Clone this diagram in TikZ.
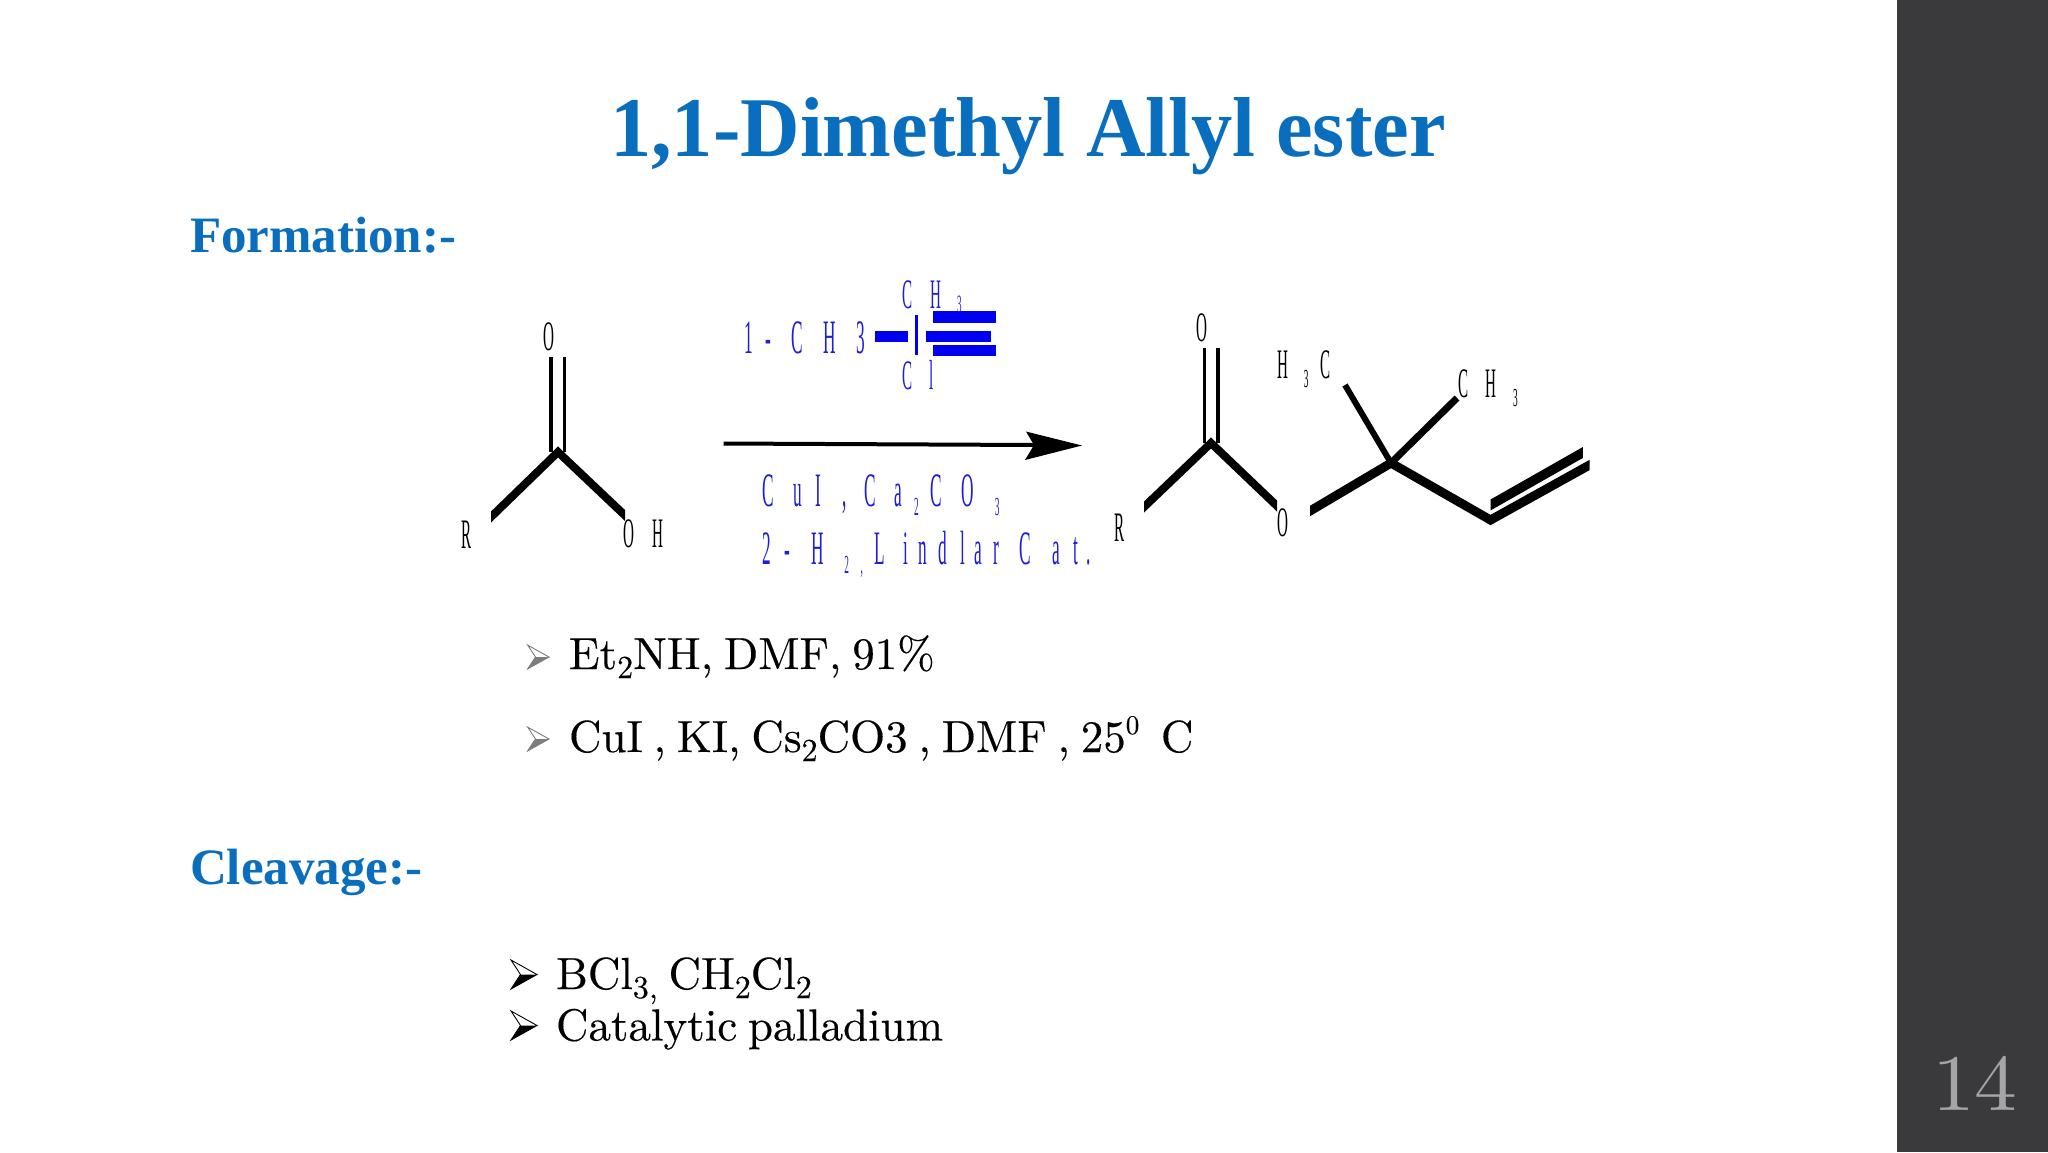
\documentclass[tikz,border=0pt]{standalone}
\usepackage{fontspec}
\usetikzlibrary{calc}
\newfontfamily\headf{Liberation Serif}
\newfontfamily\titlef[FakeStretch=.97]{Liberation Serif}
\newfontfamily\chemf[FakeStretch=.36]{Liberation Serif}
\newfontfamily\bodyf[OpticalSize=10,FakeBold=.25,WordSpace=.72]{Latin Modern Roman}
\newfontfamily\numf[OpticalSize=10,FakeStretch=1.07]{Latin Modern Roman}
\definecolor{headblue}{RGB}{10,110,190}
\definecolor{reagent}{RGB}{30,30,215}
\definecolor{barblue}{RGB}{0,0,240}
\definecolor{sidebar}{RGB}{58,58,60}
\definecolor{pagenum}{RGB}{165,165,165}
\definecolor{bulgrey}{RGB}{125,125,125}
\newcommand\dn[1]{\raisebox{-9pt}{\fontsize{32}{32}\selectfont #1}}
\newcommand\upp[1]{\raisebox{18pt}{\fontsize{27}{27}\selectfont #1}}
\newcommand\csub[1]{\raisebox{-9pt}{\fontsize{26}{26}\selectfont #1}}
\newcommand\csubt[1]{\raisebox{-4pt}{\fontsize{25}{25}\selectfont #1}}
\newcommand\K[1]{\kern#1pt\relax}
\newcommand\KB[1]{\kern\dimexpr#1pt-1.2pt\relax}
\newcommand\bul[4]{% x y scale colour
  \begin{scope}[shift={(#1,#2)},scale=#3]
    \draw[#4,line width=.9pt,fill=white,line join=miter] (-26,-14.5) -- (0,0) -- (-26,14.5) -- (-16.5,0) -- cycle;
    \fill[#4] (-16.5,0) -- (0,0) -- (-26,14.5) -- cycle;
  \end{scope}}
\tikzset{
  x=1pt,y=-1pt,
  txt/.style={inner sep=0pt,outer sep=0pt,anchor=base west},
  head/.style={txt,font=\headf\bfseries\fontsize{51}{51}\selectfont,text=headblue},
  body/.style={txt,font=\bodyf\fontsize{45}{45}\selectfont,text=black},
  atom/.style={txt,font=\chemf\fontsize{42}{42}\selectfont,text=black},
  reag/.style={txt,font=\chemf\fontsize{42}{42}\selectfont,text=reagent},
  reagbig/.style={txt,font=\chemf\fontsize{48}{48}\selectfont,text=reagent},
  bar/.style={fill=barblue,draw=none},
  dbl/.style={draw=black,line width=3.6pt,line cap=butt},
  bond/.style={draw=black,line width=#1,line cap=butt,line join=miter,miter limit=10},
}
\begin{document}
\begin{tikzpicture}
\useasboundingbox (0,0) rectangle (2048,1152);
\fill[white] (0,0) rectangle (2048,1152);
\fill[sidebar] (1897,0) rectangle (2048,1152);
\node[txt,font=\numf\fontsize{80}{80}\selectfont,text=pagenum] (num) at (1932,1110) {14};

\node[txt,font=\titlef\bfseries\fontsize{85}{85}\selectfont,text=headblue] (title) at (610,156) {1,1-Dimethyl Allyl ester};
\node[head] (formation) at (190,252) {Formation:-};
\node[head] (cleavage) at (190,884) {Cleavage:-};

% acid
\coordinate (c1) at (558,452);
\coordinate (c1a) at (551,357); \coordinate (c1b) at (551,452);
\coordinate (c1c) at (564.5,357); \coordinate (c1d) at (564.5,452);
\coordinate (r1) at (491,517);
\coordinate (oh1) at (624.5,515);
\draw[dbl] (c1a) -- (c1b);
\draw[dbl] (c1c) -- (c1d);
\begin{scope}
  \clip (491,0) rectangle (625,1152);
  \draw[bond=8pt] ($(c1)!1.1!(r1)$) -- (c1) -- ($(c1)!1.1!(oh1)$);
\end{scope}
\node[atom] (o1) at (543,350) {O};
\node[atom] (r1l) at (461,548) {R};
\node[atom] (oh1l) at (623,547) {O\K{19}H};

% reagents
\node[reagbig] (one) at (744,353) {1\KB{14}-\KB{22}C\KB{21}H\KB{22}3};
\fill[bar] (875,331) rectangle (907.5,342);
\fill[bar] (914.6,315) rectangle (918,355);
\fill[bar] (933,311) rectangle (995.5,322.5);
\fill[bar] (926,331) rectangle (990.5,342);
\fill[bar] (933,345) rectangle (995.5,356);
\node[reag] (ch3t) at (902,308) {C\K{18}H\K{16}\csubt{3}};
\node[reag] (cl) at (902,389) {C\K{17}l};
\coordinate (as) at (723.5,443.5);
\coordinate (ae) at (1034,445);
\coordinate (atip) at (1082,445.5);
\coordinate (atop) at (1026,431.5);
\coordinate (abot) at (1025,460);
\draw[draw=black,line width=4pt] (as) -- (ae);
\fill[black] (atip) -- (atop) -- (ae) -- (abot) -- cycle;
\node[reagbig] (cui) at (762,506) {C\KB{21.5}u\KB{14.4}I\KB{22},\KB{19}C\KB{19.5}a\KB{13.5}\csub{2}\K{12}C\KB{20.5}O\KB{22}\csub{3}};
\node[reagbig] (lind) at (762,564) {2\KB{15}-\KB{22.5}H\KB{21.6}\csub{2\K{11.5},}\K{12}L\KB{19}i\KB{12}n\KB{12.4}d\KB{14.4}l\KB{10}a\KB{13}r\K{20}C\K{22}a\K{13}t\K{8}.};

% ester
\coordinate (c2) at (1211,443);
\coordinate (c2a) at (1204.5,348); \coordinate (c2b) at (1204.5,443);
\coordinate (c2c) at (1218,348); \coordinate (c2d) at (1218,443);
\coordinate (r2) at (1144,507);
\coordinate (o2) at (1277,506);
\coordinate (oc) at (1310,511);
\coordinate (cq) at (1391,463);
\coordinate (m1) at (1345,385);
\coordinate (m2) at (1457,398);
\coordinate (vc) at (1490.5,520);
\coordinate (ve) at (1589.5,465);
\coordinate (ia) at (1490.5,505);
\coordinate (ib) at (1582.8,452.5);
\draw[dbl] (c2a) -- (c2b);
\draw[dbl] (c2c) -- (c2d);
\begin{scope}
  \clip (1144,0) rectangle (1277,1152);
  \draw[bond=8pt] ($(c2)!1.1!(r2)$) -- (c2) -- ($(c2)!1.1!(o2)$);
\end{scope}
\begin{scope}
  \clip (1310,0) rectangle (1589.5,1152);
  \draw[bond=9pt] ($(cq)!1.1!(oc)$) -- (cq) -- (vc) -- ($(vc)!1.1!(ve)$);
\end{scope}
\begin{scope}
  \clip (1490.5,0) rectangle (1582.8,1152);
  \draw[bond=9.5pt] ($(ib)!1.1!(ia)$) -- ($(ia)!1.1!(ib)$);
\end{scope}
\draw[bond=6pt] (m1) -- (cq);
\draw[bond=7pt] (m2) -- (cq);
\node[atom] (o2t) at (1196,341) {O};
\node[atom] (r2l) at (1114,541) {R};
\node[atom] (o2l) at (1277,536) {O};
\node[atom] (h3c) at (1277,378) {H\K{16}\csub{3}\K{11.5}C};
\node[atom] (ch3) at (1458,397) {C\K{17.5}H\K{16.5}\csub{3}};

% lists
\bul{549}{657}{.82}{bulgrey}
\node[body] (l1) at (569,669) {Et\dn{2}NH, DMF, 91\%};
\bul{549}{739}{.82}{bulgrey}
\node[body] (l2) at (569,752) {CuI , KI, Cs\dn{2}CO3 , DMF , 25\upp{0}\ \ C};
\bul{537}{974.5}{1}{black}
\node[body] (l3) at (556,989) {BCl\dn{3,} CH\dn{2}Cl\dn{2}};
\bul{537}{1025.5}{1}{black}
\node[body] (l4) at (556,1040.5) {Catalytic palladium};
\end{tikzpicture}
\end{document}
